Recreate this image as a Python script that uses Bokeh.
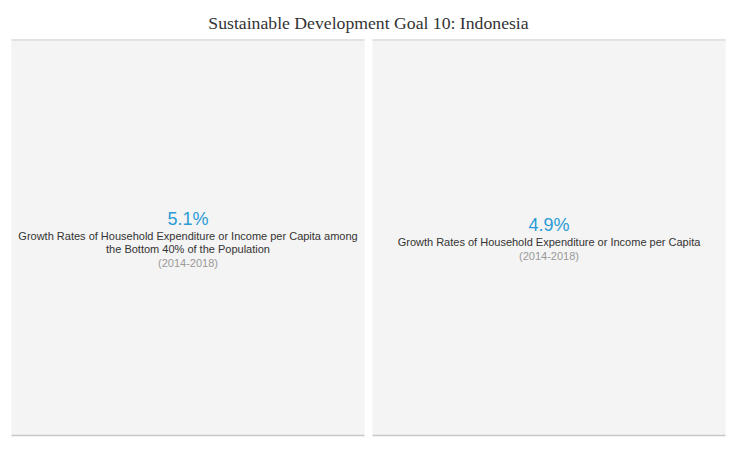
from bokeh.plotting import figure
from bokeh.models import Range1d
from bokeh.core.properties import value
from bokeh.embed import file_html
from bokeh.resources import INLINE

# ---- data ----
chart_title = "Sustainable Development Goal 10: Indonesia"
values = ["5.1%", "4.9%"]
descriptions = [
    ["Growth Rates of Household Expenditure or Income per Capita among",
     "the Bottom 40% of the Population"],
    ["Growth Rates of Household Expenditure or Income per Capita"],
]
periods = ["(2014-2018)", "(2014-2018)"]

# ---- layout (pixel space of the page) ----
W, H = 734, 446
panel_left = 11
panel_w = 353
panel_gap = 8
panel_top = 39
panel_bottom = 435
center_y = 240  # vertical centre of text block

p = figure(width=W, height=H, output_backend="svg", toolbar_location=None,
           x_range=Range1d(0, W), y_range=Range1d(H, 0),
           min_border=0, outline_line_color=None, background_fill_color="white",
           border_fill_color="white")
p.axis.visible = False
p.grid.visible = False

n = len(values)
lefts = [panel_left + i * (panel_w + panel_gap) for i in range(n)]
rights = [l + panel_w for l in lefts]
centers = [(l + r) / 2 for l, r in zip(lefts, rights)]

p.quad(left=lefts, right=rights, top=[panel_top] * n, bottom=[panel_bottom] * n,
       fill_color="#f4f4f4", line_color=None)
# top and bottom borders
p.segment(x0=lefts, x1=rights, y0=[panel_top + 0.5] * n, y1=[panel_top + 0.5] * n,
          line_color="#e2e2e2", line_width=2)
p.segment(x0=lefts, x1=rights, y0=[panel_bottom] * n, y1=[panel_bottom] * n,
          line_color="#c8c8c8", line_width=1.5)

# title
p.text(x=[368], y=[22], text=[chart_title], text_align="center",
       text_baseline="middle", text_font=value("Liberation Serif"),
       text_font_size="17.7px", text_color="#333333")

# text blocks
val_x, val_y, val_t = [], [], []
desc_x, desc_y, desc_t = [], [], []
per_x, per_y, per_t = [], [], []
for i in range(n):
    nl = len(descriptions[i])
    block = 17 + 13 * (nl - 1) + 14
    top = center_y - block / 2
    val_x.append(centers[i]); val_y.append(top); val_t.append(values[i])
    for j, line in enumerate(descriptions[i]):
        desc_x.append(centers[i]); desc_y.append(top + 17 + 13 * j); desc_t.append(line)
    per_x.append(centers[i]); per_y.append(top + 17 + 13 * (nl - 1) + 14); per_t.append(periods[i])

p.text(x=val_x, y=val_y, text=val_t, text_align="center", text_baseline="middle",
       text_font=value("Liberation Sans"), text_font_size="18px", text_color="#2b9bd6")
p.text(x=desc_x, y=desc_y, text=desc_t, text_align="center", text_baseline="middle",
       text_font=value("Liberation Sans"), text_font_size="11px", text_color="#333333")
p.text(x=per_x, y=per_y, text=per_t, text_align="center", text_baseline="middle",
       text_font=value("Liberation Sans"), text_font_size="11px", text_color="#999999")

open("out.html", "w").write(file_html(p, INLINE))
